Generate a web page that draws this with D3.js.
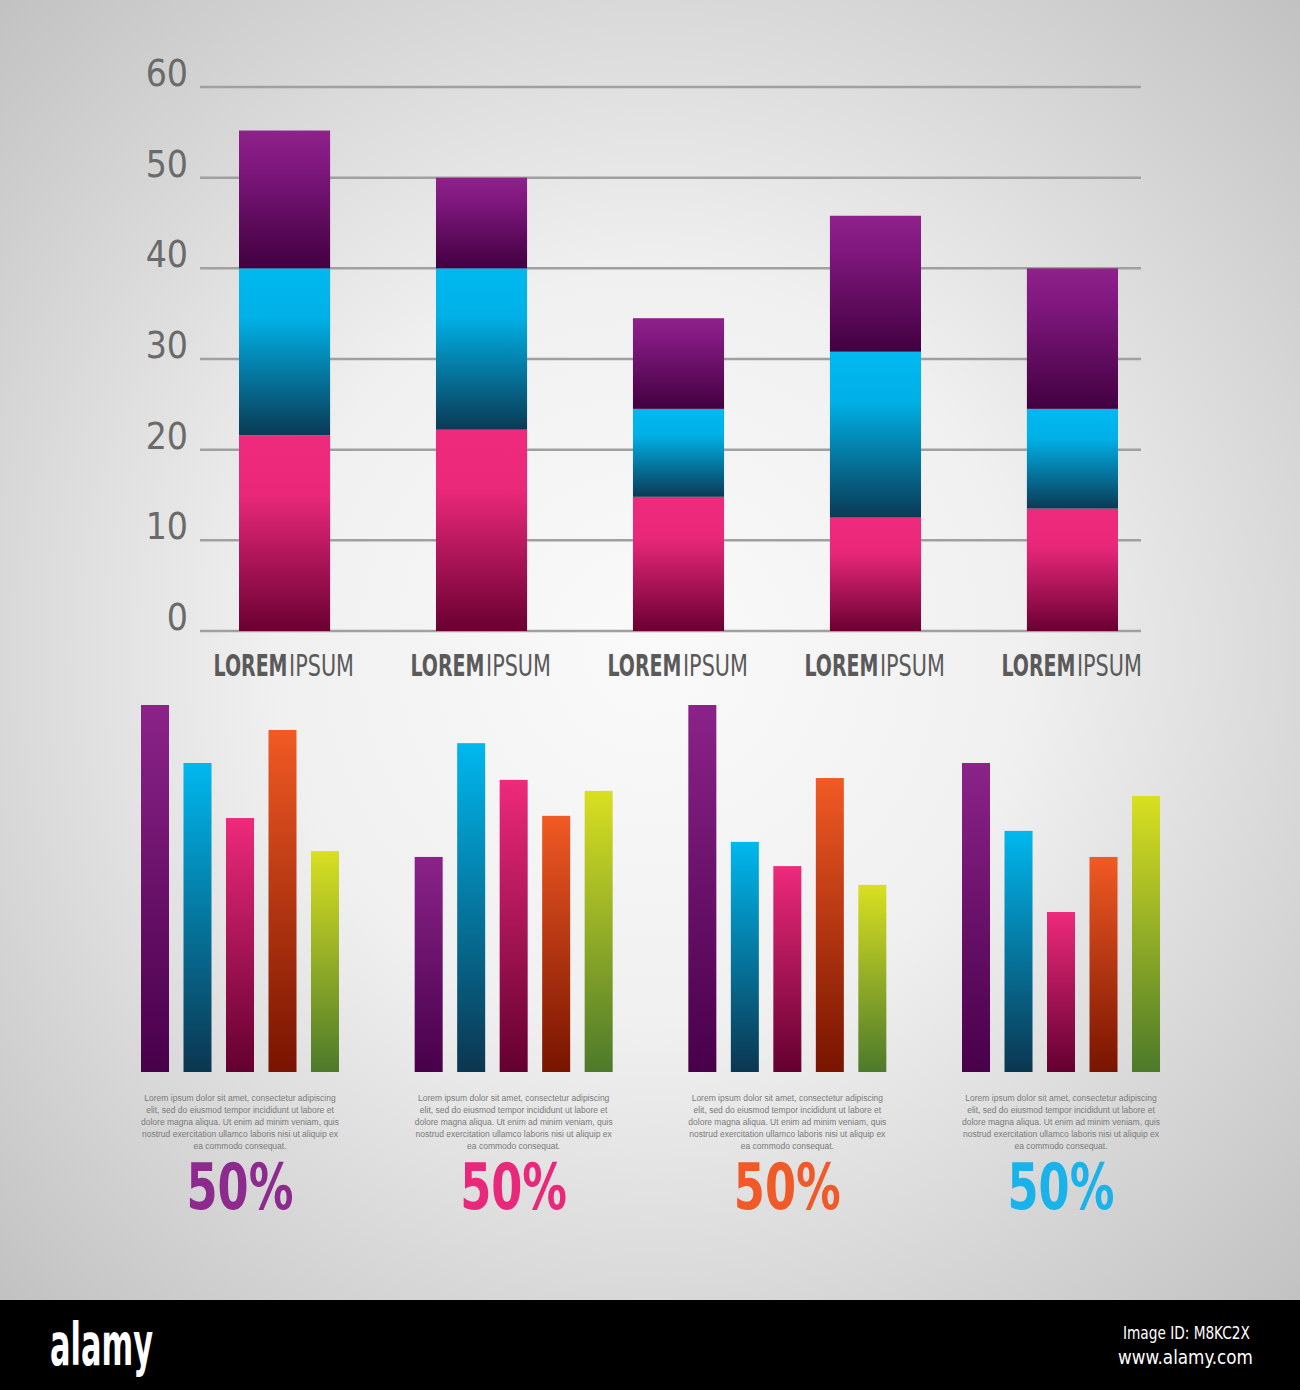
<!DOCTYPE html>
<html><head><meta charset="utf-8">
<script src="https://cdn.jsdelivr.net/npm/d3@7"></script>
<style>
html,body{margin:0;padding:0;background:#000;}
svg{display:block;}
</style>
</head><body>
<svg id="chart" width="1300" height="1390"></svg>
<script>
// ---------- DATA ----------
const categoriesBold  = ["LOREM","LOREM","LOREM","LOREM","LOREM"];
const categoriesLight = ["IPSUM","IPSUM","IPSUM","IPSUM","IPSUM"];
const stackKeys = ["pink","blue","purple"];
const pinkValues   = [21.6, 22.2, 14.8, 12.5, 13.5];
const blueValues   = [18.4, 17.8,  9.7, 18.3, 11.0];
const purpleValues = [15.2, 10.0, 10.0, 15.0, 15.5];
const yTicks = [0,10,20,30,40,50,60];

const miniGroups = ["g1","g2","g3","g4"];
const miniSeries = ["purple","blue","pink","orange","green"];
const miniPurple = [100, 58.6, 100, 84.2];
const miniBlue   = [84.2, 89.6, 62.7, 65.7];
const miniPink   = [69.2, 79.6, 56.1, 43.6];
const miniOrange = [93.2, 69.8, 80.1, 58.6];
const miniGreen  = [60.2, 76.6, 51.0, 75.2];
const paragraphLines = [
  "Lorem ipsum dolor sit amet, consectetur adipiscing",
  "elit, sed do eiusmod tempor incididunt ut labore et",
  "dolore magna aliqua. Ut enim ad minim veniam, quis",
  "nostrud exercitation ullamco laboris nisi ut aliquip ex",
  "ea commodo consequat."
];
const percentLabels = ["50%","50%","50%","50%"];

// ---------- STYLES ----------
const narrow = "'Liberation Sans Narrow','DejaVu Sans Condensed',sans-serif";
const gradColors = {
  pink:   [["0%","#ee2a7b"],["30%","#ea287a"],["100%","#6a0032"]],
  blue:   [["0%","#00b9f0"],["30%","#00b0e6"],["100%","#0a3a55"]],
  purple: [["0%","#8e228a"],["25%","#80187f"],["100%","#420040"]],
  mpurple:[["0%","#8b2389"],["100%","#48004a"]],
  mblue:  [["0%","#00b8ef"],["100%","#0b3650"]],
  mpink:  [["0%","#ee2a7b"],["100%","#630030"]],
  morange:[["0%","#f15a24"],["100%","#781400"]],
  mgreen: [["0%","#d9e021"],["100%","#4d7a2b"]]
};
const pctColors = ["#8c2a8e","#e8287a","#f05a28","#1ab2ea"];

const svg = d3.select("#chart");
const defs = svg.append("defs");

const bg = defs.append("radialGradient").attr("id","bg")
  .attr("cx","50%").attr("cy","50%").attr("r","72%");
bg.append("stop").attr("offset","0%").attr("stop-color","#fafafa");
bg.append("stop").attr("offset","40%").attr("stop-color","#f0f0f0");
bg.append("stop").attr("offset","100%").attr("stop-color","#c0c0c0");
Object.entries(gradColors).forEach(([k,stops])=>{
  const g = defs.append("linearGradient").attr("id","g_"+k)
    .attr("x1",0).attr("y1",0).attr("x2",0).attr("y2",1);
  stops.forEach(s=>g.append("stop").attr("offset",s[0]).attr("stop-color",s[1]));
});

svg.append("rect").attr("x",0).attr("y",0).attr("width",1300).attr("height",1300).attr("fill","url(#bg)");

// helper: squeeze a text horizontally to a target width via transform
function fitText(sel, x0, y0, target, anchor){
  sel.each(function(){
    const t = d3.select(this).attr("x",0).attr("y",0).attr("text-anchor","start");
    const w = this.getComputedTextLength();
    const s = target / w;
    const left = anchor==="end" ? x0 - target : (anchor==="middle" ? x0 - target/2 : x0);
    t.attr("transform",`translate(${left},${y0}) scale(${s},1)`);
  });
}

// ---------- TOP STACKED CHART ----------
const y = d3.scaleLinear().domain([0,60]).range([631,87]);
const x = d3.scaleBand().domain(d3.range(categoriesBold.length))
  .range([239,1118]).paddingInner(0.5375).paddingOuter(0);

const grid = svg.append("g");
grid.selectAll("line").data(yTicks).join("line")
  .attr("x1",200).attr("x2",1141)
  .attr("y1",d=>y(d)).attr("y2",d=>y(d))
  .attr("stroke","#a0a0a0").attr("stroke-width",2.5);
grid.selectAll("text").data(yTicks).join("text")
  .attr("x",188).attr("y",d=>y(d)-1)
  .attr("text-anchor","end")
  .attr("font-family",narrow).attr("font-size",37)
  .attr("fill","#6a6a6a")
  .text(d=>d);

const rows = pinkValues.map((v,i)=>({pink:v,blue:blueValues[i],purple:purpleValues[i],i}));
const stacked = d3.stack().keys(stackKeys)(rows);
svg.append("g").selectAll("g").data(stacked).join("g")
  .attr("fill",d=>"url(#g_"+d.key+")")
  .selectAll("rect").data(d=>d).join("rect")
  .attr("x",d=>x(d.data.i))
  .attr("width",x.bandwidth())
  .attr("y",d=>y(d[1]))
  .attr("height",d=>y(d[0])-y(d[1]));

const labG = svg.append("g");
labG.selectAll("text.b").data(categoriesBold).join("text").attr("class","b")
  .attr("font-family",narrow).attr("font-weight","bold").attr("font-size",31)
  .attr("fill","#5a5a5a").text(d=>d)
  .each(function(d,i){ fitText(d3.select(this), x(i)+x.bandwidth()/2+3, 676, 74, "end"); });
labG.selectAll("text.l").data(categoriesLight).join("text").attr("class","l")
  .attr("font-family",narrow).attr("font-size",31)
  .attr("fill","#5a5a5a").text(d=>d)
  .each(function(d,i){ fitText(d3.select(this), x(i)+x.bandwidth()/2+4.5, 676, 65, "start"); });

// ---------- MINI CHARTS ----------
const miniData = {purple:miniPurple, blue:miniBlue, pink:miniPink, orange:miniOrange, green:miniGreen};
const gx = d3.scaleBand().domain(miniGroups).range([141,141+273.67*4]);
const ix = d3.scaleBand().domain(miniSeries).range([0,198]).paddingInner(0.341).paddingOuter(0);
const my = d3.scaleLinear().domain([0,100]).range([1072,705]);

const groups = svg.append("g").selectAll("g").data(miniGroups).join("g")
  .attr("transform",d=>`translate(${gx(d)},0)`);
groups.selectAll("rect").data((g,gi)=>miniSeries.map(s=>({s,v:miniData[s][gi]}))).join("rect")
  .attr("x",d=>ix(d.s)).attr("width",ix.bandwidth())
  .attr("y",d=>my(d.v)).attr("height",d=>my(0)-my(d.v))
  .attr("fill",d=>"url(#g_m"+d.s+")");

const cx = 99;
groups.each(function(g,gi){
  const sel = d3.select(this);
  sel.selectAll("text.p").data(paragraphLines).join("text").attr("class","p")
    .attr("x",cx).attr("y",(d,i)=>1101+i*12)
    .attr("text-anchor","middle")
    .attr("font-family","'Liberation Sans',Arial,sans-serif").attr("font-size",8.5)
    .attr("fill","#7a7a7a").text(d=>d);
  const pt = sel.append("text")
    .attr("font-family",narrow).attr("font-weight","bold").attr("font-size",64)
    .attr("fill",pctColors[gi]).text(percentLabels[gi]);
  fitText(pt, cx, 1209, 107, "middle");
});

// ---------- FOOTER BANNER ----------
svg.append("rect").attr("x",0).attr("y",1300).attr("width",1300).attr("height",90).attr("fill","#000");
fitText(svg.append("text")
  .attr("font-family",narrow).attr("font-weight","bold").attr("font-size",58)
  .attr("fill","#fff").text("alamy"), 50, 1365, 103, "start");
fitText(svg.append("text")
  .attr("font-family",narrow).attr("font-size",17)
  .attr("fill","#fff").text("Image ID: M8KC2X"), 1250, 1339, 127, "end");
fitText(svg.append("text")
  .attr("font-family",narrow).attr("font-size",20)
  .attr("fill","#fff").text("www.alamy.com"), 1253, 1364, 135, "end");
</script>
</body></html>
